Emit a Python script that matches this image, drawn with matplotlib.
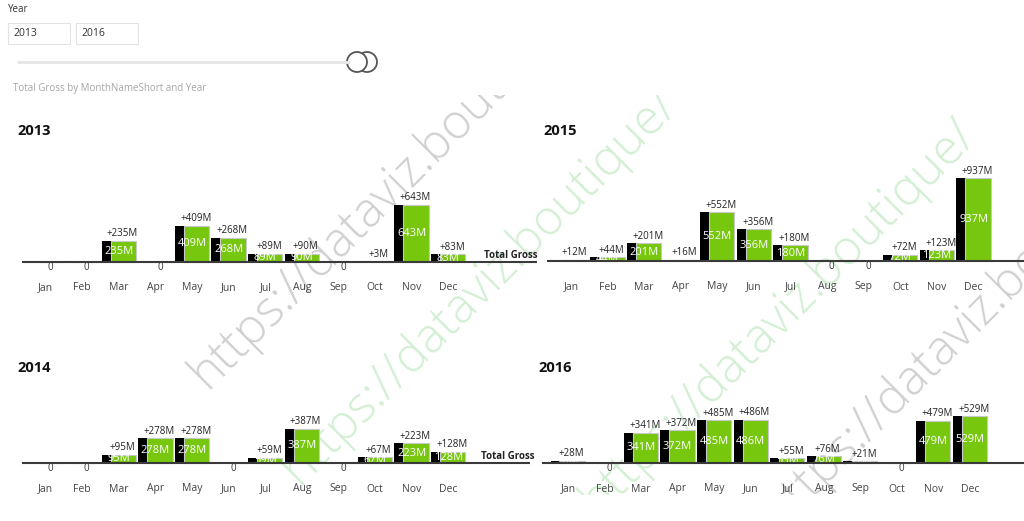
import matplotlib
matplotlib.use("Agg")
import matplotlib.pyplot as plt
from matplotlib.patches import Rectangle, Circle
import numpy as np

plt.rcParams['font.family'] = ['Open Sans', 'DejaVu Sans']

W, H = 1024, 521

# == data ==
months = ['Jan', 'Feb', 'Mar', 'Apr', 'May', 'Jun', 'Jul', 'Aug', 'Sep', 'Oct', 'Nov', 'Dec']
gross_2013 = [0, 0, 235, 0, 409, 268, 89, 90, 0, 3, 643, 83]
gross_2014 = [0, 0, 95, 278, 278, 0, 59, 387, 0, 67, 223, 128]
gross_2015 = [12, 44, 201, 16, 552, 356, 180, 0, 0, 72, 123, 937]
gross_2016 = [28, 0, 341, 372, 485, 486, 55, 76, 21, 0, 479, 529]
year_range = ['2013', '2016']
subtitle = 'Total Gross by MonthNameShort and Year'
watermark = 'https://dataviz.boutique/'

GREEN = '#77c70f'
M_PER_PX = 11.3
CLIP_Y = 490  # the visual's bottom edge cuts the lower month labels

fig = plt.figure(figsize=(W / 100, H / 100), dpi=100)

# watermark layer (behind), clipped to the chart area
WM_TOP, WM_BOT = 95, 495
wm = fig.add_axes([0, 1 - WM_BOT / H, 1, (WM_BOT - WM_TOP) / H])
wm.set_xlim(0, W)
wm.set_ylim(WM_BOT, WM_TOP)
wm.axis('off')
for (x0, y0, col) in [(207, 390, '#d0d0d0'), (299, 486, '#d3efd3'),
                      (598, 516, '#d3efd3'), (780, 528, '#d0d0d0')]:
    wm.text(x0, y0, watermark, rotation=45, rotation_mode='anchor', ha='left', va='baseline',
            fontsize=35, fontweight='light', color=col, clip_on=True)


def px_axes(left, right, top, bottom):
    return fig.add_axes([left / W, 1 - bottom / H, (right - left) / W, (bottom - top) / H])


def panel(values, left, right, base, jan, step, total_x=None):
    top_px = base - 110
    bot_px = min(base + 35, CLIP_Y)
    ax = px_axes(left, right, top_px, bot_px)
    ax.patch.set_alpha(0)
    ax.axis('off')
    ax.set_xlim((left - jan) / step, (right - jan) / step)
    ax.set_ylim(-(bot_px - base) * M_PER_PX, (base - top_px) * M_PER_PX)
    x = np.arange(len(months))
    ax.bar(x - 0.125, values, width=0.69, color='black', linewidth=0, zorder=2)
    ax.bar(x + 0.12, values, width=0.69, color=GREEN, edgecolor='#c8c8c8', linewidth=0.8, zorder=3)
    ax.axhline(0, color='#3a3a3a', lw=1.5, zorder=5)
    for i, v in enumerate(values):
        if v == 0:
            ax.text(i + 0.12, -5.5 * M_PER_PX, '0', ha='center', va='center', fontsize=7, color='#333333')
        else:
            ax.text(i + 0.1, v + 1.5 * M_PER_PX, f'+{v}M', ha='center', va='bottom',
                    fontsize=7, color='#222222', zorder=6)
            t = ax.text(i, v / 2, f'{v}M', ha='center', va='center', fontsize=8,
                        color='white', zorder=4)
            t.set_clip_path(Rectangle((i - 0.47, 0), 0.94, v, transform=ax.transData))
        lab = ax.text(i, -26 * M_PER_PX, months[i], ha='center', va='center',
                      fontsize=7.5, color='#444444')
        lab.set_clip_box(ax.bbox)
    if total_x is not None:
        ax.text((total_x - jan) / step, 1.0 * M_PER_PX, 'Total Gross', ha='left', va='bottom',
                fontsize=7, fontweight='bold', color='#222222', zorder=6)
    return ax


panel(gross_2013, 22, 537, 261.7, 45.7, 36.6, total_x=484)
panel(gross_2015, 547, 1024, 261, 571, 36.6)
panel(gross_2014, 22, 530, 463, 45.7, 36.6, total_x=481)
panel(gross_2016, 542, 1024, 463, 568, 36.55)

# overlay in pixel coordinates for titles and controls
ov = fig.add_axes([0, 0, 1, 1])
ov.set_xlim(0, W)
ov.set_ylim(H, 0)
ov.axis('off')
ov.patch.set_alpha(0)

for label, tx, ty in [('2013', 17, 131), ('2015', 543, 131), ('2014', 17, 368), ('2016', 538, 368)]:
    ov.text(tx, ty, label, ha='left', va='center', fontsize=10.5, fontweight='bold', color='#111111')

ov.text(8, 10, 'Year', ha='left', va='center', fontsize=7, color='#333333')
for (bx, val) in zip([8, 76], year_range):
    ov.add_patch(Rectangle((bx, 23), 62, 21, facecolor='white', edgecolor='#e3e3e3', lw=0.8))
    ov.text(bx + 5, 33.5, val, ha='left', va='center', fontsize=7.5, color='#333333')
ov.plot([17, 350], [61.5, 61.5], color='#e6e6e6', lw=2.2, solid_capstyle='butt')
ov.add_patch(Circle((367, 62), 10, facecolor='white', edgecolor='#555555', lw=1.3))
ov.add_patch(Circle((357, 62), 10, facecolor='white', edgecolor='#555555', lw=1.3))
ov.text(13, 89, subtitle, ha='left', va='center', fontsize=7, color='#a6a6a6')

fig.savefig('out.png', dpi=100)
